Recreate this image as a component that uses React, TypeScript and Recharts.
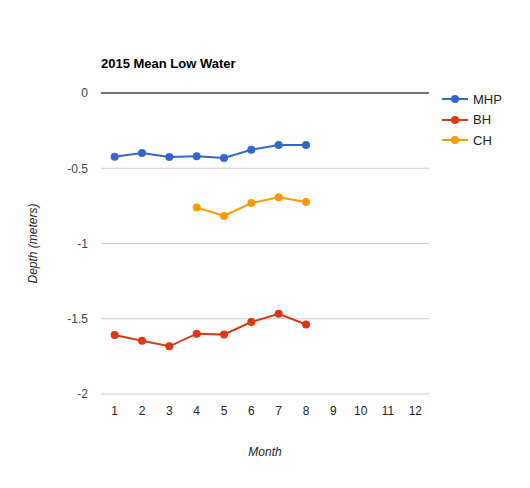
import React from 'react';
import { LineChart, Line, XAxis, YAxis, CartesianGrid, ReferenceLine, Legend } from 'recharts';

const months = ['1', '2', '3', '4', '5', '6', '7', '8', '9', '10', '11', '12'];
const seriesNames = ['MHP', 'BH', 'CH'];
const mhp: (number | null)[] = [-0.423, -0.399, -0.425, -0.421, -0.432, -0.377, -0.346, -0.346, null, null, null, null];
const bh: (number | null)[] = [-1.608, -1.646, -1.683, -1.599, -1.604, -1.522, -1.467, -1.538, null, null, null, null];
const ch: (number | null)[] = [null, null, null, -0.760, -0.817, -0.731, -0.693, -0.724, null, null, null, null];
const yTicks = [0, -0.5, -1, -1.5, -2];

const data = months.map((m, i) => ({ month: m, MHP: mhp[i], BH: bh[i], CH: ch[i] }));

const FONT = '"Liberation Sans", Arial, sans-serif';

const LegendContent = (props: any) => {
  const payload = [...(props.payload || [])].sort(
    (a: any, b: any) => seriesNames.indexOf(a.value) - seriesNames.indexOf(b.value)
  );
  return (
    <div style={{ fontFamily: FONT, fontSize: 13, color: '#222' }}>
      {payload.map((p: any) => (
        <div key={p.value} style={{ display: 'flex', alignItems: 'center', height: 20.5 }}>
          <svg width={26} height={12} style={{ marginRight: 5 }}>
            <line x1={0} y1={6} x2={26} y2={6} stroke={p.color} strokeWidth={2} />
            <circle cx={13} cy={6} r={4} fill={p.color} />
          </svg>
          <span>{p.value}</span>
        </div>
      ))}
    </div>
  );
};

export default function App() {
  return (
    <div style={{ position: 'absolute', left: 0, top: 0, width: 530, height: 488, background: '#fff' }}>
      <div
        style={{
          position: 'absolute',
          left: 101,
          top: 56,
          fontFamily: FONT,
          fontSize: 13,
          fontWeight: 'bold',
          color: '#000',
          zIndex: 2,
        }}
      >
        2015 Mean Low Water
      </div>
      <LineChart width={530} height={488} data={data} margin={{ top: 93, right: 101, left: 0, bottom: 0 }}>
        <CartesianGrid vertical={false} stroke="#cccccc" />
        <XAxis
          dataKey="month"
          height={94}
          axisLine={false}
          tickLine={false}
          tickMargin={6}
          padding={{ left: 13.67, right: 13.67 }}
          tick={{ fill: '#222', fontSize: 12, fontFamily: FONT }}
          interval={0}
          label={{ value: 'Month', position: 'insideBottom', offset: 32, fill: '#222', fontSize: 12, fontStyle: 'italic', fontFamily: FONT }}
        />
        <YAxis
          width={101}
          domain={[-2, 0]}
          ticks={yTicks}
          axisLine={false}
          tickLine={false}
          tickSize={6}
          tickMargin={7}
          tick={{ fill: '#444', fontSize: 12, fontFamily: FONT }}
          label={{ value: 'Depth (meters)', angle: -90, position: 'insideLeft', offset: 33, fill: '#222', fontSize: 12, fontStyle: 'italic', fontFamily: FONT, style: { textAnchor: 'middle' } }}
        />
        <ReferenceLine y={0} stroke="#000" strokeWidth={1} />
        <Legend
          layout="vertical"
          align="center"
          verticalAlign="middle"
          width={80}
          wrapperStyle={{ left: 442, top: 89 }}
          content={<LegendContent />}
        />
        <Line type="linear" dataKey="MHP" stroke="#3366cc" strokeWidth={2} dot={{ r: 4, fill: '#3366cc', stroke: '#3366cc', strokeWidth: 0 }} isAnimationActive={false} />
        <Line type="linear" dataKey="BH" stroke="#dc3912" strokeWidth={2} dot={{ r: 4, fill: '#dc3912', stroke: '#dc3912', strokeWidth: 0 }} isAnimationActive={false} />
        <Line type="linear" dataKey="CH" stroke="#ff9900" strokeWidth={2} dot={{ r: 4, fill: '#ff9900', stroke: '#ff9900', strokeWidth: 0 }} isAnimationActive={false} />
      </LineChart>
    </div>
  );
}
